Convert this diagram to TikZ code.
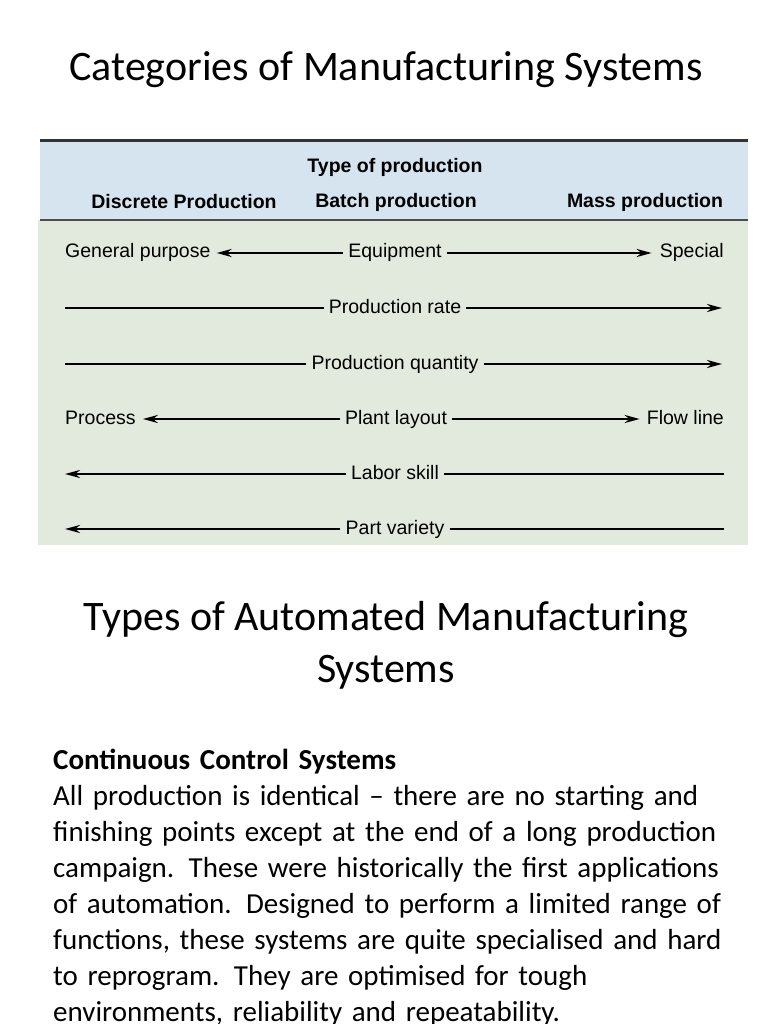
\documentclass[tikz,border=0pt]{standalone}
\usepackage{fontspec}
\setmainfont{Carlito}
\newfontfamily\tabfont{Liberation Sans}
\usetikzlibrary{arrows.meta}
\definecolor{hdr}{RGB}{214,228,240}
\definecolor{bodybg}{RGB}{226,234,222}
\begin{document}
\begin{tikzpicture}[x=1pt,y=-1pt,
  tl/.style={font=\tabfont\fontsize{19.5}{22}\selectfont,inner sep=5pt,text height=14pt,text depth=4pt},
  th/.style={font=\tabfont\bfseries\fontsize{19.5}{22}\selectfont,inner sep=0pt,anchor=base},
  ar/.style={line width=2.4pt,-{Stealth[length=15pt,width=8pt]}},
  ln/.style={line width=2.4pt},
  body/.style={font=\fontsize{29}{36}\selectfont,anchor=north west,inner sep=0pt,align=left,text width=710pt}]
\useasboundingbox (0,0) rectangle (768,1024);
\fill[white] (0,0) rectangle (768,1024);
\node (t1) at (386,70) {\fontsize{42}{46}\selectfont Categories of Manufacturing Systems};
% table
\fill[bodybg] (38,220) rectangle (748,545);
\fill[hdr] (40,141) rectangle (748,220);
\draw[line width=3pt,black!80] (40,141) -- (748,141);
\draw[line width=1.2pt,black!70] (40,220) -- (748,220);
\node[th] (h0) at (395,173) {Type of production};
\node[th] (h1) at (184,209) {Discrete Production};
\node[th] (h2) at (396,208) {Batch production};
\node[th] (h3) at (645,208) {Mass production};
% row 1
\node[tl,anchor=west,inner sep=0pt] (gp) at (65,253) {General purpose};
\node[tl] (eq) at (395,253) {Equipment};
\node[tl,anchor=east,inner sep=0pt] (sp) at (724,253) {Special};
\draw[ar] (eq.west) -- ([xshift=6pt]gp.east);
\draw[ar] (eq.east) -- ([xshift=-8pt]sp.west);
% row 2
\coordinate (r2a) at (65,308); \coordinate (r2b) at (722,308);
\node[tl] (pr) at (395,308) {Production rate};
\draw[ln] (r2a) -- (pr.west); \draw[ar] (pr.east) -- (r2b);
% row 3
\coordinate (r3a) at (65,364); \coordinate (r3b) at (722,364);
\node[tl] (pq) at (395,364) {Production quantity};
\draw[ln] (r3a) -- (pq.west); \draw[ar] (pq.east) -- (r3b);
% row 4
\node[tl,anchor=west,inner sep=0pt] (proc) at (65,419) {Process};
\node[tl] (pl) at (396,419) {Plant layout};
\node[tl,anchor=east,inner sep=0pt] (fl) at (724,419) {Flow line};
\draw[ar] (pl.west) -- ([xshift=7pt]proc.east);
\draw[ar] (pl.east) -- ([xshift=-7pt]fl.west);
% row 5
\coordinate (r5a) at (65,474); \coordinate (r5b) at (724,474);
\node[tl] (ls) at (395,474) {Labor skill};
\draw[ar] (ls.west) -- (r5a); \draw[ln] (ls.east) -- (r5b);
% row 6
\coordinate (r6a) at (65,529); \coordinate (r6b) at (724,529);
\node[tl] (pv) at (395,529) {Part variety};
\draw[ar] (pv.west) -- (r6a); \draw[ln] (pv.east) -- (r6b);
% second title
\node[align=center,font=\fontsize{42}{52}\selectfont] (t2) at (386,645) {Types of Automated Manufacturing\\Systems};
% body
\node[body] (bd) at (53,749) {\raggedright\textbf{Continuous Control Systems}\\
All production is identical -- there are no starting and\\
finishing points except at the end of a long production\\
campaign. These were historically the first applications\\
of automation. Designed to perform a limited range of\\
functions, these systems are quite specialised and hard\\
to reprogram. They are optimised for tough\\
environments, reliability and repeatability.};
\end{tikzpicture}
\end{document}
